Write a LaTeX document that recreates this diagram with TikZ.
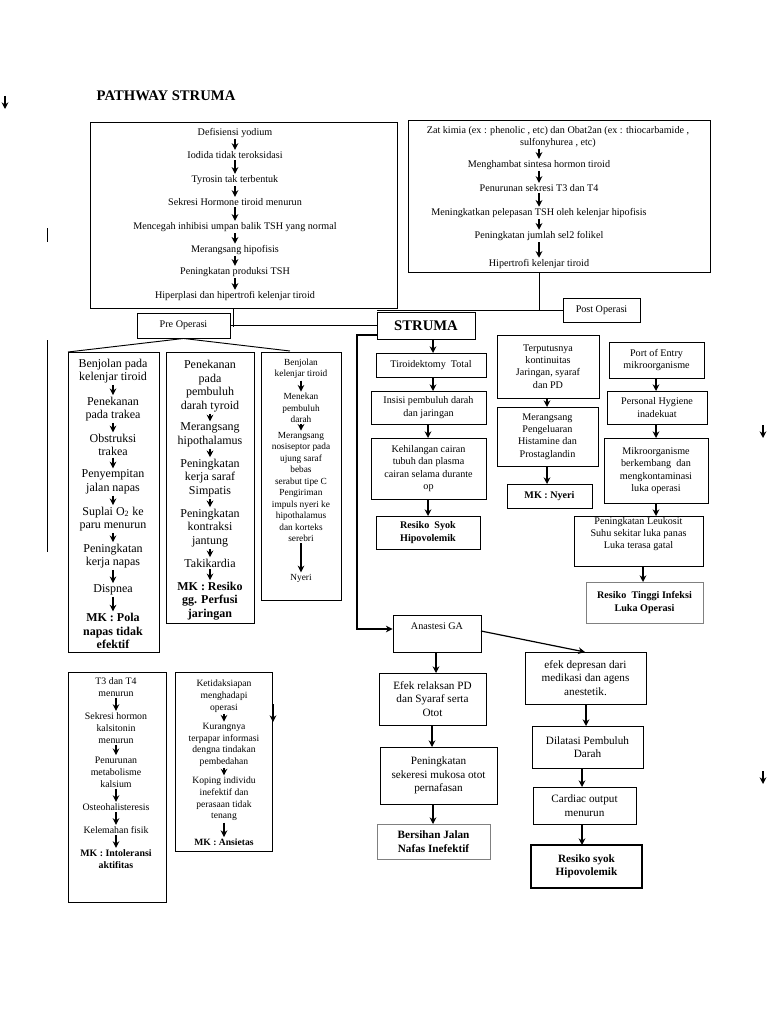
\documentclass[tikz,border=0pt]{standalone}
\usepackage{fontspec}
\setmainfont{Liberation Serif}
\usetikzlibrary{arrows.meta,fit}
\begin{document}
\begin{tikzpicture}[x=0.75pt,y=-0.75pt,
  box/.style={draw,line width=0.7pt,inner sep=0pt},
  t/.style={align=center,inner sep=1pt},
  ta/.style={t,font=\fontsize{7.6}{8.8}\selectfont},
  tl/.style={t,font=\fontsize{9}{10.3}\selectfont},
  tm/.style={t,font=\fontsize{7}{8.6}\selectfont},
  tr/.style={align=center,inner sep=0pt,font=\fontsize{7.6}{9.2}\selectfont},
  trb/.style={tr,font=\bfseries\fontsize{7.6}{9.2}\selectfont},
  tq/.style={align=center,inner sep=0pt,font=\fontsize{8.4}{10}\selectfont},
  tqb/.style={tq,font=\bfseries\fontsize{8.4}{10}\selectfont},
  arr/.style={-{Stealth[length=5pt,width=5pt]},line width=0.9pt},
  ln/.style={line width=0.7pt}]
\useasboundingbox (0,0) rectangle (768,1024);
% title
\node[anchor=west,font=\bfseries\fontsize{11}{13}\selectfont] (title) at (92,96) {PATHWAY STRUMA};
% box A
\node[box,fit={(90,122)(397,308)}] (A) {};
\node[ta] (a1) at (235,133) {Defisiensi yodium};
\node[ta] (a2) at (235,155) {Iodida tidak teroksidasi};
\node[ta] (a3) at (235,180) {Tyrosin tak terbentuk};
\node[ta] (a4) at (235,202) {Sekresi Hormone tiroid menurun};
\node[ta] (a5) at (235,227) {Mencegah inhibisi umpan balik TSH yang normal};
\node[ta] (a6) at (235,250) {Merangsang hipofisis};
\node[ta] (a7) at (235,272) {Peningkatan produksi TSH};
\node[ta] (a8) at (235,296) {Hiperplasi dan hipertrofi kelenjar tiroid};
\foreach \i/\j in {a1/a2,a2/a3,a3/a4,a4/a5,a5/a6,a6/a7,a7/a8}{\draw[arr] (\i.south) -- (\j.north);}
% box B
\node[box,fit={(408,120)(710,272)}] (B) {};
\node[ta] (b1) at (558,137) {Zat kimia (ex : phenolic , etc) dan Obat2an (ex : thiocarbamide ,\\ sulfonyhurea , etc)};
\node[ta] (b2) at (539,165) {Menghambat sintesa hormon tiroid};
\node[ta] (b3) at (539,188) {Penurunan sekresi T3 dan T4};
\node[ta] (b4) at (539,213) {Meningkatkan pelepasan TSH oleh kelenjar hipofisis};
\node[ta] (b5) at (539,236) {Peningkatan jumlah sel2 folikel};
\node[ta] (b6) at (539,264) {Hipertrofi kelenjar tiroid};
\foreach \i/\j in {b1/b2,b2/b3,b3/b4,b4/b5,b5/b6}{\draw[arr] (\i.south -| b2) -- (\j.north);}
% pre/post/struma
\node[box,fit={(137,313)(230,338)},label={[tr]center:Pre Operasi}] (pre) {};
\node[box,fit={(377,312)(475,339)},label={[tr,font=\bfseries\fontsize{11}{13}\selectfont]center:STRUMA}] (str) {};
\node[box,fit={(563,298)(640,322)},label={[tr]center:Post Operasi}] (post) {};
\coordinate (aj) at (233,308);
\draw[ln] (aj) -- (233,327);
\draw[ln] (pre.east) -- (str.west);
\coordinate (bj) at (539,272);
\draw[ln] (bj) -- (539,310);
\draw[ln] (377,310) -- (post.west);
\coordinate (fanL) at (68,352);
\coordinate (fanR) at (290,351);
\draw[ln] (fanL) -- (pre.south) -- (fanR);
% left column boxes
\node[box,fit={(68,352)(159,652)}] (L1) {};
\node[tl] (l1) at (113,371) {Benjolan pada\\kelenjar tiroid};
\node[tl] (l2) at (113,409) {Penekanan\\pada trakea};
\node[tl] (l3) at (113,445) {Obstruksi\\trakea};
\node[tl] (l4) at (113,482) {Penyempitan\\jalan napas};
\node[tl] (l5) at (113,519) {Suplai O\textsubscript{2} ke\\paru menurun};
\node[tl] (l6) at (113,556) {Peningkatan\\kerja napas};
\node[tl] (l7) at (113,590) {Dispnea};
\node[tl,font=\bfseries\fontsize{9}{10.3}\selectfont] (l8) at (113,631) {MK : Pola\\napas tidak\\efektif};
\foreach \i/\j in {l1/l2,l2/l3,l3/l4,l4/l5,l5/l6,l6/l7,l7/l8}{\draw[arr] (\i.south) -- (\j.north);}
\node[box,fit={(166,352)(254,623)}] (L2) {};
\node[tl] (m1) at (210,386) {Penekanan\\pada\\pembuluh\\darah tyroid};
\node[tl] (m2) at (210,435) {Merangsang\\hipothalamus};
\node[tl] (m3) at (210,478) {Peningkatan\\kerja saraf\\Simpatis};
\node[tl] (m4) at (210,528) {Peningkatan\\kontraksi\\jantung};
\node[tl] (m5) at (210,563) {Takikardia};
\node[tl,font=\bfseries\fontsize{9}{10.3}\selectfont] (m6) at (210,601) {MK : Resiko\\gg. Perfusi\\jaringan};
\foreach \i/\j in {m1/m2,m2/m3,m3/m4,m4/m5,m5/m6}{\draw[arr] (\i.south) -- (\j.north);}
\node[box,fit={(261,352)(341,600)}] (L3) {};
\node[tm] (n1) at (301,369) {Benjolan\\kelenjar tiroid};
\node[tm] (n2) at (301,408) {Menekan\\pembuluh\\darah};
\node[tm] (n3) at (301,487) {Merangsang\\nosiseptor pada\\ujung saraf\\bebas\\serabut tipe  C\\Pengiriman\\impuls nyeri ke\\hipothalamus\\dan korteks\\serebri};
\node[tm] (n4) at (301,578) {Nyeri};
\foreach \i/\j in {n1/n2,n2/n3,n3/n4}{\draw[arr] (\i.south) -- (\j.north);}
% long line to anastesi
\node[box,fit={(393,615)(481,652)}] (ana) {};
\node[tr] (anat) at (437,626) {Anastesi GA};
\draw[arr] (str.west |- 0,335) -- (357,335) -- (357,629) -- (ana.west |- 0,629);
% struma branch
\node[box,fit={(376,353)(486,377)},label={[tr]center:Tiroidektomy~ Total}] (tir) {};
\draw[arr] (433,339) -- (433,353);
\node[box,fit={(371,391)(486,424)},label={[tr]center:Insisi pembuluh darah\\dan jaringan}] (ins) {};
\node[box,fit={(371,438)(486,499)},label={[tr]center:Kehilangan cairan\\tubuh dan plasma\\cairan selama durante\\op}] (keh) {};
\node[box,fit={(376,516)(480,549)},label={[trb]center:Resiko~ Syok\\Hipovolemik}] (rs1) {};
\draw[arr] (tir.south -| 433,0) -- (433,391);
\draw[arr] (ins.south -| 428,0) -- (428,438);
\draw[arr] (keh.south -| 428,0) -- (428,516);
\node[box,fit={(497,335)(599,398)},label={[tr]center:Terputusnya\\kontinuitas\\Jaringan, syaraf\\dan PD}] (ter) {};
\node[box,fit={(497,407)(598,466)},label={[tr]center:Merangsang\\Pengeluaran\\Histamine dan\\Prostaglandin}] (mer) {};
\node[box,fit={(507,484)(592,508)},label={[trb]center:MK : Nyeri}] (mkn) {};
\draw[arr] (ter.south -| 547,0) -- (547,407);
\draw[arr] (mer.south -| 547,0) -- (547,484);
\node[box,fit={(609,342)(704,378)},label={[tr]center:Port of Entry\\mikroorganisme}] (poe) {};
\node[box,fit={(607,391)(707,424)},label={[tr]center:Personal Hygiene\\inadekuat}] (ph) {};
\node[box,fit={(604,438)(708,503)},label={[tr]center:Mikroorganisme\\berkembang~ dan\\mengkontaminasi\\luka operasi}] (mik) {};
\node[box,fit={(574,516)(703,566)},label={[tr]center:Peningkatan Leukosit\\Suhu sekitar luka panas\\Luka terasa gatal\\[3pt]}] (leu) {};
\node[box,fit={(586,582)(703,623)},draw=gray,label={[trb]center:Resiko~ Tinggi Infeksi\\Luka Operasi}] (rti) {};
\draw[arr] (poe.south -| 656,0) -- (656,391);
\draw[arr] (ph.south -| 656,0) -- (656,438);
\draw[arr] (mik.south -| 656,0) -- (656,516);
\draw[arr] (leu.south -| 643,0) -- (643,582);
% anastesi branches
\node[box,fit={(379,673)(486,725)},label={[tq]center:Efek relaksan PD\\dan Syaraf serta\\Otot}] (efr) {};
\node[box,fit={(380,747)(497,804)},label={[tq]center:Peningkatan\\sekeresi mukosa otot\\pernafasan}] (pen) {};
\node[box,fit={(377,824)(490,859)},draw=gray,label={[tqb]center:Bersihan Jalan\\Nafas Inefektif}] (ber) {};
\node[box,fit={(525,652)(646,704)},label={[tq]center:efek depresan dari\\medikasi dan agens\\anestetik.}] (efd) {};
\node[box,fit={(532,726)(643,768)},label={[tq]center:Dilatasi Pembuluh\\Darah}] (dil) {};
\node[box,fit={(533,787)(636,824)},label={[tq]center:Cardiac output\\menurun}] (car) {};
\node[box,fit={(531,845)(642,888)},line width=1.1pt,label={[tqb]center:Resiko syok\\Hipovolemik}] (rs2) {};
\draw[arr] (ana.south -| 436,0) -- (436,673);
\draw[arr] (efr.south -| 432,0) -- (432,747);
\draw[arr] (pen.south -| 433,0) -- (433,824);
\draw[arr] (481,631) -- (585,652);
\draw[arr] (efd.south -| 586,0) -- (586,726);
\draw[arr] (dil.south -| 582,0) -- (582,787);
\draw[arr] (car.south -| 582,0) -- (582,845);
% bottom-left boxes
\node[box,fit={(68,672)(166,902)}] (T3) {};
\node[tm,font=\fontsize{7.4}{9}\selectfont] (p1) at (116,687) {T3 dan T4\\menurun};
\node[tm,font=\fontsize{7.4}{9}\selectfont] (p2) at (116,728) {Sekresi hormon\\kalsitonin\\menurun};
\node[tm,font=\fontsize{7.4}{9}\selectfont] (p3) at (116,772) {Penurunan\\metabolisme\\kalsium};
\node[tm,font=\fontsize{7.4}{9}\selectfont] (p4) at (116,807) {Osteohalisteresis};
\node[tm,font=\fontsize{7.4}{9}\selectfont] (p5) at (116,830) {Kelemahan fisik};
\node[tm,font=\bfseries\fontsize{7.4}{9}\selectfont] (p6) at (116,859) {MK : Intoleransi\\aktifitas};
\foreach \i/\j in {p1/p2,p2/p3,p3/p4,p4/p5,p5/p6}{\draw[arr] (\i.south) -- (\j.north);}
\node[box,fit={(175,672)(272,851)}] (KT) {};
\node[tm,font=\fontsize{7.2}{8.8}\selectfont] (q1) at (224,696) {Ketidaksiapan\\menghadapi\\operasi};
\node[tm,font=\fontsize{7.2}{8.8}\selectfont] (q2) at (224,745) {Kurangnya\\terpapar informasi\\dengna tindakan\\pembedahan};
\node[tm,font=\fontsize{7.2}{8.8}\selectfont] (q3) at (224,799) {Koping individu\\inefektif dan\\perasaan tidak\\tenang};
\node[tm,font=\bfseries\fontsize{7.2}{8.8}\selectfont] (q4) at (224,842) {MK : Ansietas};
\foreach \i/\j in {q1/q2,q2/q3,q3/q4}{\draw[arr] (\i.south) -- (\j.north);}
% stray marks
\coordinate (s1a) at (273,704); \coordinate (s1b) at (273,722); \draw[arr] (s1a) -- (s1b);
\coordinate (s2a) at (5,96); \coordinate (s2b) at (5,109); \draw[arr] (s2a) -- (s2b);
\coordinate (s3a) at (763,425); \coordinate (s3b) at (763,438); \draw[arr] (s3a) -- (s3b);
\coordinate (s4a) at (763,771); \coordinate (s4b) at (763,784); \draw[arr] (s4a) -- (s4b);
\coordinate (s5a) at (47,228); \coordinate (s5b) at (47,242); \draw[ln] (s5a) -- (s5b);
\coordinate (s6a) at (47,340); \coordinate (s6b) at (47,552); \draw[ln] (s6a) -- (s6b);
\end{tikzpicture}
\end{document}
